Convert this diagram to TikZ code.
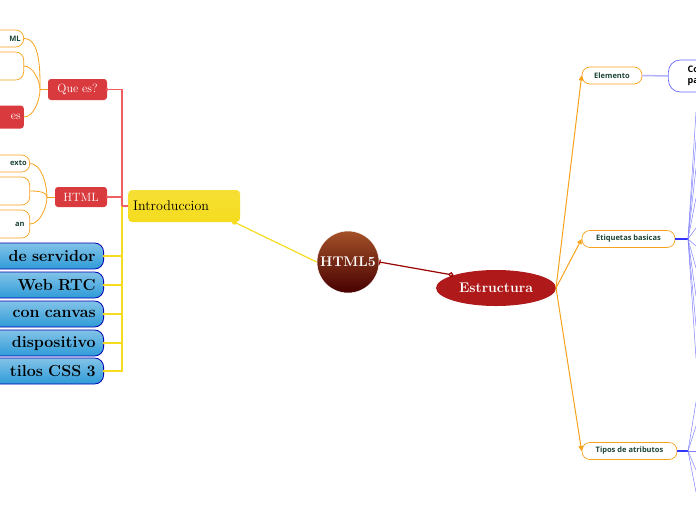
\documentclass[tikz,border=0pt]{standalone}
\usepackage{fontspec}
\newfontfamily\sansf{Open Sans}
\usetikzlibrary{shapes.geometric,arrows.meta}
\definecolor{redb}{HTML}{D93A3E}
\definecolor{redl}{HTML}{F06060}
\definecolor{orng}{HTML}{F7A21B}
\definecolor{ylw}{HTML}{F5DC1E}
\definecolor{blu}{HTML}{2F9BD8}
\definecolor{dkg}{HTML}{1C4536}
\tikzset{
 redbox/.style={rounded corners=3pt,fill=redb,text=white,font=\fontsize{12}{14}\selectfont,inner sep=0pt},
 obox/.style={rounded corners=8pt,draw=orng,fill=white,line width=0.7pt,font=\sansf\bfseries\fontsize{7.5}{9}\selectfont,text=dkg,inner sep=0pt},
 bbox/.style={rounded corners=9pt,draw=blue!70!black,top color=blu!60,bottom color=blu,line width=0.8pt,font=\bfseries\fontsize{16}{18}\selectfont,inner xsep=8pt,inner ysep=0pt,minimum height=26pt,text width=110pt,align=right,anchor=east},
 oline/.style={orng,line width=1pt},
 bline/.style={blue!50,line width=0.5pt},
}
\begin{document}
\begin{tikzpicture}[x=1pt,y=-1pt]
\useasboundingbox (0,0) rectangle (696,520);
\clip (0,0) rectangle (696,520);
% centre
\node[circle,minimum size=62pt,inner sep=0pt,top color=brown!80!red!80!black,bottom color=black!60!red!70!black,draw=white,line width=0.5pt,text=white,font=\bfseries\fontsize{14}{16}\selectfont] (h5) at (348,262) {HTML5};
\node[ellipse,minimum width=120pt,minimum height=36pt,fill=red!65!black!90,text=white,font=\bfseries\fontsize{14}{16}\selectfont,inner sep=0pt] (est) at (496,288) {Estructura};
\draw[red!60!black,line width=1.2pt,{Bar[width=5pt]}-{Circle[open,length=5pt]}] (h5.east) -- (est.north west);
% Introduccion
\node[rounded corners=4pt,top color=ylw!90,bottom color=ylw,minimum width=112pt,minimum height=32pt,anchor=west,inner sep=5pt,text width=102pt,align=left,font=\fontsize{14}{16}\selectfont] (intro) at (128,206) {Introduccion};
\draw[ylw,line width=1.2pt] (intro.south east) ++(-6,0) coordinate (ie) -- (h5.west);
\fill[ylw] (ie) circle (2.5pt);
% yellow branches
\node[bbox] (b1) at (104,256) {de servidor};
\node[bbox] (b2) at (104,285) {Web RTC};
\node[bbox] (b3) at (104,314) {con canvas};
\node[bbox] (b4) at (104,343) {dispositivo};
\node[bbox] (b5) at (104,371) {tilos CSS 3};
\fill[ylw] (120.5,206) rectangle (122.5,372);
\foreach \b/\y in {b1/256,b2/285,b3/314,b4/343,b5/371}{\draw[draw=ylw,line width=1.5pt] (\b.east) -- (121.5,\y); \fill[ylw] (\b.east) circle (1.5pt);}
% red boxes
\node[redbox,minimum width=59pt,minimum height=21pt] (que) at (77.5,89.5) {Que es?};
\node[redbox,minimum width=52pt,minimum height=20pt] (html) at (81,197) {HTML};
\fill[redl] (120.5,89) rectangle (122.5,206);
\draw[draw=redl,line width=1.5pt] (que.east) -- (121.5,89.5);
\draw[draw=redl,line width=1.5pt] (121.5,206) -- (intro.west);
\draw[draw=redl,line width=1.5pt] (html.east) -- (121.5,197);
\fill[redl] (que.east) circle (1.5pt) (html.east) circle (1.5pt);
% Que es children
\node[obox,minimum height=17pt,anchor=east,text width=55pt,align=right,inner xsep=3pt] (q1) at (24,38.5) {ML};
\node[obox,minimum width=60pt,minimum height=28pt,anchor=east] (q2) at (24,66) {};
\node[redbox,minimum height=23pt,anchor=east,text width=54pt,align=right,inner xsep=3pt] (q3) at (24,117) {es};
\coordinate (qj) at (40,89.5);
\draw[orng,line width=1pt] (que.west) -- (qj);
\draw[orng,line width=0.8pt] (qj) to[out=90,in=0,looseness=0.8] (q1.east);
\draw[orng,line width=0.8pt] (qj) to[out=90,in=0,looseness=0.8] (q2.east);
\draw[orng,line width=0.8pt] (qj) to[out=-90,in=0,looseness=0.8] (q3.east);
% HTML children
\node[obox,minimum height=17pt,anchor=east,text width=55pt,align=right,inner xsep=3pt] (t1) at (30,163.5) {exto};
\node[obox,minimum width=60pt,minimum height=28pt,anchor=east] (t2) at (30,191) {};
\node[obox,minimum height=28pt,anchor=east,text width=50pt,align=right,inner xsep=5pt] (t3) at (30,224) {an};
\coordinate (hj) at (47,197);
\draw[orng,line width=1pt] (html.west) -- (hj);
\draw[orng,line width=0.8pt] (hj) to[out=90,in=0,looseness=0.8] (t1.east);
\draw[orng,line width=0.8pt] (hj) to[out=90,in=0,looseness=0.8] (t2.east);
\draw[orng,line width=0.8pt] (hj) to[out=-90,in=0,looseness=0.8] (t3.east);
% right side
\node[obox,minimum width=60pt,minimum height=17pt] (el) at (612,75.5) {Elemento};
\node[obox,minimum width=93pt,minimum height=17pt] (eb) at (628.5,239) {Etiquetas basicas};
\node[obox,minimum width=95pt,minimum height=17pt] (ta) at (629.5,451) {Tipos de atributos};
\coordinate (ej) at (556,288);
\draw[oline] (est.east) -- (ej);
\foreach \n in {el,eb,ta}{\draw[oline,-{Triangle[length=5pt,width=5pt]}] (ej) -- (\n.west);}
\node[rounded corners=12pt,draw=blue!60,fill=white,line width=0.7pt,minimum width=50pt,minimum height=32pt,anchor=west,font=\sansf\bfseries\fontsize{9}{11}\selectfont,text=black,align=left,inner xsep=18pt] (co) at (668,76) {Co\\pa};
\draw[blue!30,line width=1.5pt] (el.east) -- (co.west);
\coordinate (bj) at (688,239);
\draw[blue!80,line width=1.2pt] (eb.east) -- (bj);
\foreach \y in {112,140,168,198,228,246,268,296,326,358}{\draw[bline] (bj) -- (696,\y);}
\coordinate (tj) at (688,451);
\draw[blue!80,line width=1.2pt] (ta.east) -- (tj);
\foreach \y in {402,426,451,470,492}{\draw[bline] (tj) -- (696,\y);}
\end{tikzpicture}
\end{document}
